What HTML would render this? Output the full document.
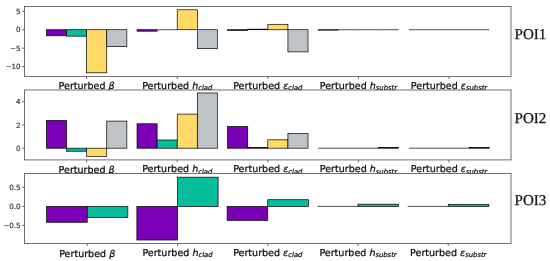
<!DOCTYPE html>
<html><head><meta charset="utf-8"><style>
html,body{margin:0;padding:0;background:#fff;width:550px;height:261px;overflow:hidden}
svg{display:block;filter:blur(0.25px)}
text{text-rendering:geometricPrecision}
.tk{font-family:"DejaVu Sans",sans-serif;font-size:7.2px;fill:#1a1a1a;stroke:#1a1a1a;stroke-width:0.1px}
.xl{font-family:"DejaVu Sans",sans-serif;font-size:9.55px;fill:#0a0a0a;stroke:#0a0a0a;stroke-width:0.22px}
.poi{font-family:"Liberation Serif",serif;font-size:15px;fill:#111;stroke:#111;stroke-width:0.25px}
</style></head><body>
<svg width="550" height="261" viewBox="0 0 550 261">
<rect width="550" height="261" fill="#fff"/>
<rect x="24.5" y="6.5" width="486.50" height="70.00" fill="#fff"/>
<rect x="46.44" y="29.72" width="20.10" height="6.07" fill="#7a00b8" stroke="#000" stroke-width="0.7"/>
<rect x="66.54" y="29.72" width="20.10" height="6.44" fill="#05bd9c" stroke="#000" stroke-width="0.7"/>
<rect x="86.64" y="29.72" width="20.10" height="43.07" fill="#ffda66" stroke="#000" stroke-width="0.7"/>
<rect x="106.74" y="29.72" width="20.10" height="16.92" fill="#bdc3c7" stroke="#000" stroke-width="0.7"/>
<rect x="137.03" y="29.72" width="20.10" height="1.47" fill="#7a00b8" stroke="#000" stroke-width="0.7"/>
<line x1="157.13" y1="29.72" x2="177.23" y2="29.72" stroke="#000" stroke-width="0.7"/>
<rect x="177.23" y="9.79" width="20.10" height="19.93" fill="#ffda66" stroke="#000" stroke-width="0.7"/>
<rect x="197.33" y="29.72" width="20.10" height="18.94" fill="#bdc3c7" stroke="#000" stroke-width="0.7"/>
<rect x="227.62" y="29.72" width="20.10" height="0.74" fill="#1e002e" stroke="#000" stroke-width="0.7"/>
<rect x="247.72" y="29.17" width="20.10" height="0.55" fill="#013427" stroke="#000" stroke-width="0.7"/>
<rect x="267.82" y="24.31" width="20.10" height="5.41" fill="#ffda66" stroke="#000" stroke-width="0.7"/>
<rect x="287.92" y="29.72" width="20.10" height="22.18" fill="#bdc3c7" stroke="#000" stroke-width="0.7"/>
<rect x="318.21" y="29.72" width="20.10" height="0.44" fill="#1e002e" stroke="#000" stroke-width="0.7"/>
<line x1="338.31" y1="29.72" x2="358.41" y2="29.72" stroke="#000" stroke-width="0.7"/>
<line x1="358.41" y1="29.72" x2="378.51" y2="29.72" stroke="#000" stroke-width="0.7"/>
<line x1="378.51" y1="29.72" x2="398.61" y2="29.72" stroke="#000" stroke-width="0.7"/>
<line x1="408.80" y1="29.72" x2="428.90" y2="29.72" stroke="#000" stroke-width="0.7"/>
<line x1="428.90" y1="29.72" x2="449.00" y2="29.72" stroke="#000" stroke-width="0.7"/>
<line x1="449.00" y1="29.72" x2="469.10" y2="29.72" stroke="#000" stroke-width="0.7"/>
<line x1="469.10" y1="29.72" x2="489.20" y2="29.72" stroke="#000" stroke-width="0.7"/>
<rect x="24.5" y="6.5" width="486.50" height="70.00" fill="none" stroke="#555" stroke-width="0.85"/>
<line x1="22.00" y1="11.33" x2="24.5" y2="11.33" stroke="#555" stroke-width="0.85"/>
<text x="20.60" y="14.08" text-anchor="end" class="tk">5</text>
<line x1="22.00" y1="29.72" x2="24.5" y2="29.72" stroke="#555" stroke-width="0.85"/>
<text x="20.60" y="32.47" text-anchor="end" class="tk">0</text>
<line x1="22.00" y1="48.11" x2="24.5" y2="48.11" stroke="#555" stroke-width="0.85"/>
<text x="20.60" y="50.86" text-anchor="end" class="tk">−5</text>
<line x1="22.00" y1="66.50" x2="24.5" y2="66.50" stroke="#555" stroke-width="0.85"/>
<text x="20.60" y="69.25" text-anchor="end" class="tk">−10</text>
<line x1="86.64" y1="76.5" x2="86.64" y2="79.00" stroke="#555" stroke-width="0.85"/>
<line x1="177.23" y1="76.5" x2="177.23" y2="79.00" stroke="#555" stroke-width="0.85"/>
<line x1="267.82" y1="76.5" x2="267.82" y2="79.00" stroke="#555" stroke-width="0.85"/>
<line x1="358.41" y1="76.5" x2="358.41" y2="79.00" stroke="#555" stroke-width="0.85"/>
<line x1="449.00" y1="76.5" x2="449.00" y2="79.00" stroke="#555" stroke-width="0.85"/>
<text x="86.64" y="88.90" text-anchor="middle" class="xl">Perturbed <tspan font-style="italic">β</tspan></text>
<text x="177.23" y="88.50" text-anchor="middle" class="xl">Perturbed <tspan font-style="italic">h</tspan><tspan font-style="italic" font-size="6.8" dy="1.6">clad</tspan></text>
<text x="267.82" y="88.50" text-anchor="middle" class="xl">Perturbed <tspan font-style="italic">ε</tspan><tspan font-style="italic" font-size="6.8" dy="1.6">clad</tspan></text>
<text x="358.41" y="88.50" text-anchor="middle" class="xl">Perturbed <tspan font-style="italic">h</tspan><tspan font-style="italic" font-size="6.8" dy="1.6">substr</tspan></text>
<text x="449.00" y="88.50" text-anchor="middle" class="xl">Perturbed <tspan font-style="italic">ε</tspan><tspan font-style="italic" font-size="6.8" dy="1.6">substr</tspan></text>
<text x="514.5" y="39.3" class="poi" textLength="31.8" lengthAdjust="spacingAndGlyphs">POI1</text>
<rect x="24.5" y="90.0" width="486.50" height="69.90" fill="#fff"/>
<rect x="46.44" y="120.40" width="20.10" height="27.80" fill="#7a00b8" stroke="#000" stroke-width="0.7"/>
<rect x="66.54" y="148.20" width="20.10" height="3.02" fill="#05bd9c" stroke="#000" stroke-width="0.7"/>
<rect x="86.64" y="148.20" width="20.10" height="8.14" fill="#ffda66" stroke="#000" stroke-width="0.7"/>
<rect x="106.74" y="121.10" width="20.10" height="27.10" fill="#bdc3c7" stroke="#000" stroke-width="0.7"/>
<rect x="137.03" y="123.78" width="20.10" height="24.42" fill="#7a00b8" stroke="#000" stroke-width="0.7"/>
<rect x="157.13" y="139.99" width="20.10" height="8.21" fill="#05bd9c" stroke="#000" stroke-width="0.7"/>
<rect x="177.23" y="114.12" width="20.10" height="34.08" fill="#ffda66" stroke="#000" stroke-width="0.7"/>
<rect x="197.33" y="92.96" width="20.10" height="55.24" fill="#bdc3c7" stroke="#000" stroke-width="0.7"/>
<rect x="227.62" y="126.45" width="20.10" height="21.75" fill="#7a00b8" stroke="#000" stroke-width="0.7"/>
<rect x="247.72" y="147.39" width="20.10" height="0.81" fill="#013427" stroke="#000" stroke-width="0.7"/>
<rect x="267.82" y="139.83" width="20.10" height="8.37" fill="#ffda66" stroke="#000" stroke-width="0.7"/>
<rect x="287.92" y="133.43" width="20.10" height="14.77" fill="#bdc3c7" stroke="#000" stroke-width="0.7"/>
<line x1="318.21" y1="148.20" x2="338.31" y2="148.20" stroke="#000" stroke-width="0.7"/>
<line x1="338.31" y1="148.20" x2="358.41" y2="148.20" stroke="#000" stroke-width="0.7"/>
<line x1="358.41" y1="148.20" x2="378.51" y2="148.20" stroke="#000" stroke-width="0.7"/>
<rect x="378.51" y="147.50" width="20.10" height="0.70" fill="#2f3631" stroke="#000" stroke-width="0.7"/>
<line x1="408.80" y1="148.20" x2="428.90" y2="148.20" stroke="#000" stroke-width="0.7"/>
<line x1="428.90" y1="148.20" x2="449.00" y2="148.20" stroke="#000" stroke-width="0.7"/>
<line x1="449.00" y1="148.20" x2="469.10" y2="148.20" stroke="#000" stroke-width="0.7"/>
<rect x="469.10" y="147.50" width="20.10" height="0.70" fill="#2f3631" stroke="#000" stroke-width="0.7"/>
<rect x="24.5" y="90.0" width="486.50" height="69.90" fill="none" stroke="#555" stroke-width="0.85"/>
<line x1="22.00" y1="101.68" x2="24.5" y2="101.68" stroke="#555" stroke-width="0.85"/>
<text x="20.60" y="104.43" text-anchor="end" class="tk">4</text>
<line x1="22.00" y1="124.94" x2="24.5" y2="124.94" stroke="#555" stroke-width="0.85"/>
<text x="20.60" y="127.69" text-anchor="end" class="tk">2</text>
<line x1="22.00" y1="148.20" x2="24.5" y2="148.20" stroke="#555" stroke-width="0.85"/>
<text x="20.60" y="150.95" text-anchor="end" class="tk">0</text>
<line x1="86.64" y1="159.9" x2="86.64" y2="162.40" stroke="#555" stroke-width="0.85"/>
<line x1="177.23" y1="159.9" x2="177.23" y2="162.40" stroke="#555" stroke-width="0.85"/>
<line x1="267.82" y1="159.9" x2="267.82" y2="162.40" stroke="#555" stroke-width="0.85"/>
<line x1="358.41" y1="159.9" x2="358.41" y2="162.40" stroke="#555" stroke-width="0.85"/>
<line x1="449.00" y1="159.9" x2="449.00" y2="162.40" stroke="#555" stroke-width="0.85"/>
<text x="86.64" y="172.70" text-anchor="middle" class="xl">Perturbed <tspan font-style="italic">β</tspan></text>
<text x="177.23" y="172.00" text-anchor="middle" class="xl">Perturbed <tspan font-style="italic">h</tspan><tspan font-style="italic" font-size="6.8" dy="1.6">clad</tspan></text>
<text x="267.82" y="172.00" text-anchor="middle" class="xl">Perturbed <tspan font-style="italic">ε</tspan><tspan font-style="italic" font-size="6.8" dy="1.6">clad</tspan></text>
<text x="358.41" y="172.00" text-anchor="middle" class="xl">Perturbed <tspan font-style="italic">h</tspan><tspan font-style="italic" font-size="6.8" dy="1.6">substr</tspan></text>
<text x="449.00" y="172.00" text-anchor="middle" class="xl">Perturbed <tspan font-style="italic">ε</tspan><tspan font-style="italic" font-size="6.8" dy="1.6">substr</tspan></text>
<text x="514.5" y="122.9" class="poi" textLength="31.8" lengthAdjust="spacingAndGlyphs">POI2</text>
<rect x="24.5" y="173.5" width="486.50" height="70.00" fill="#fff"/>
<rect x="46.61" y="206.40" width="40.62" height="15.89" fill="#7a00b8" stroke="#000" stroke-width="0.7"/>
<rect x="87.23" y="206.40" width="40.62" height="11.15" fill="#05bd9c" stroke="#000" stroke-width="0.7"/>
<rect x="136.87" y="206.40" width="40.62" height="33.62" fill="#7a00b8" stroke="#000" stroke-width="0.7"/>
<rect x="177.49" y="177.18" width="40.62" height="29.22" fill="#05bd9c" stroke="#000" stroke-width="0.7"/>
<rect x="227.13" y="206.40" width="40.62" height="13.94" fill="#7a00b8" stroke="#000" stroke-width="0.7"/>
<rect x="267.75" y="199.72" width="40.62" height="6.69" fill="#05bd9c" stroke="#000" stroke-width="0.7"/>
<line x1="317.39" y1="206.40" x2="358.01" y2="206.40" stroke="#000" stroke-width="0.7"/>
<rect x="358.01" y="204.18" width="40.62" height="2.22" fill="#05bd9c" stroke="#000" stroke-width="0.7"/>
<line x1="407.65" y1="206.40" x2="448.27" y2="206.40" stroke="#000" stroke-width="0.7"/>
<rect x="448.27" y="204.30" width="40.62" height="2.10" fill="#05bd9c" stroke="#000" stroke-width="0.7"/>
<rect x="24.5" y="173.5" width="486.50" height="70.00" fill="none" stroke="#555" stroke-width="0.85"/>
<line x1="22.00" y1="187.30" x2="24.5" y2="187.30" stroke="#555" stroke-width="0.85"/>
<text x="20.60" y="190.05" text-anchor="end" class="tk">0.5</text>
<line x1="22.00" y1="206.40" x2="24.5" y2="206.40" stroke="#555" stroke-width="0.85"/>
<text x="20.60" y="209.15" text-anchor="end" class="tk">0.0</text>
<line x1="22.00" y1="225.50" x2="24.5" y2="225.50" stroke="#555" stroke-width="0.85"/>
<text x="20.60" y="228.25" text-anchor="end" class="tk">−0.5</text>
<line x1="87.23" y1="243.5" x2="87.23" y2="246.00" stroke="#555" stroke-width="0.85"/>
<line x1="177.49" y1="243.5" x2="177.49" y2="246.00" stroke="#555" stroke-width="0.85"/>
<line x1="267.75" y1="243.5" x2="267.75" y2="246.00" stroke="#555" stroke-width="0.85"/>
<line x1="358.01" y1="243.5" x2="358.01" y2="246.00" stroke="#555" stroke-width="0.85"/>
<line x1="448.27" y1="243.5" x2="448.27" y2="246.00" stroke="#555" stroke-width="0.85"/>
<text x="87.23" y="256.60" text-anchor="middle" class="xl">Perturbed <tspan font-style="italic">β</tspan></text>
<text x="177.49" y="255.75" text-anchor="middle" class="xl">Perturbed <tspan font-style="italic">h</tspan><tspan font-style="italic" font-size="6.8" dy="1.6">clad</tspan></text>
<text x="267.75" y="255.75" text-anchor="middle" class="xl">Perturbed <tspan font-style="italic">ε</tspan><tspan font-style="italic" font-size="6.8" dy="1.6">clad</tspan></text>
<text x="358.01" y="255.75" text-anchor="middle" class="xl">Perturbed <tspan font-style="italic">h</tspan><tspan font-style="italic" font-size="6.8" dy="1.6">substr</tspan></text>
<text x="448.27" y="255.75" text-anchor="middle" class="xl">Perturbed <tspan font-style="italic">ε</tspan><tspan font-style="italic" font-size="6.8" dy="1.6">substr</tspan></text>
<text x="514.5" y="205.0" class="poi" textLength="31.8" lengthAdjust="spacingAndGlyphs">POI3</text>
</svg>
</body></html>
